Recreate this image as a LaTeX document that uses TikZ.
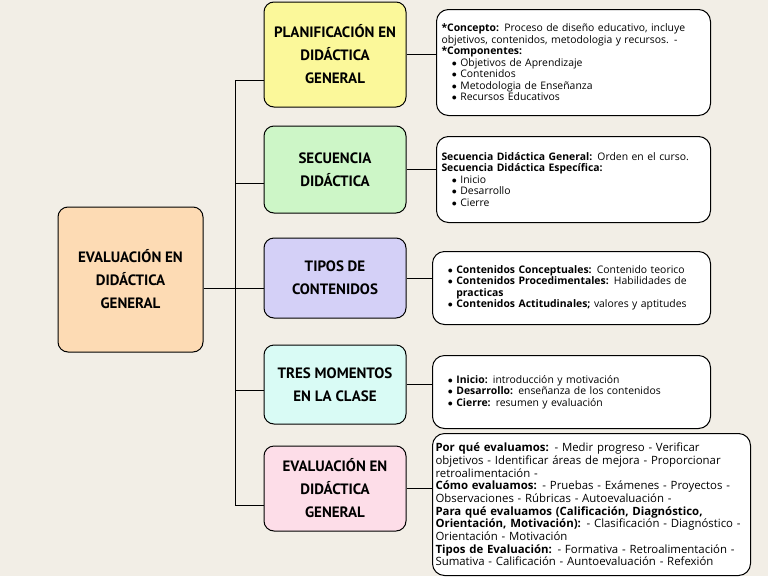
\documentclass[tikz,border=0pt]{standalone}
\usepackage{fontspec}
\setmainfont{Open Sans}
\newfontfamily\titlefont{PT Sans}
\begin{document}
\begin{tikzpicture}[x=1pt,y=-1pt,
 topic/.style={draw,line width=1pt,rounded corners=10pt,align=center,font=\titlefont\bfseries\fontsize{15}{23}\selectfont,inner sep=2pt},
 detail/.style={draw,line width=1pt,rounded corners=12pt,align=left,font=\fontsize{10.4}{11.5}\selectfont,anchor=north west,inner sep=6pt},
 conn/.style={line width=1pt}]
\fill[fill={rgb,255:red,242;green,238;blue,230}] (0,0) rectangle (768,576);
\useasboundingbox (0,0) rectangle (768,576);
\definecolor{c0}{RGB}{253,219,180}\definecolor{c1}{RGB}{251,248,154}\definecolor{c2}{RGB}{205,246,199}
\definecolor{c3}{RGB}{212,208,247}\definecolor{c4}{RGB}{217,251,245}\definecolor{c5}{RGB}{253,221,232}
\node[topic,fill=c0,minimum width=145,minimum height=145] (m) at (130.5,279.5) {EVALUACIÓN EN\\DIDÁCTICA\\GENERAL};
\node[topic,fill=c1,minimum width=142,minimum height=105] (t1) at (335,54.5) {PLANIFICACIÓN EN\\DIDÁCTICA\\GENERAL};
\node[topic,fill=c2,minimum width=142,minimum height=87] (t2) at (335,169.5) {SECUENCIA\\DIDÁCTICA};
\node[topic,fill=c3,minimum width=142,minimum height=80] (t3) at (335,278) {TIPOS DE\\CONTENIDOS};
\node[topic,fill=c4,minimum width=142,minimum height=79] (t4) at (335,384.5) {TRES MOMENTOS\\EN LA CLASE};
\node[topic,fill=c5,minimum width=142,minimum height=85] (t5) at (335,488.5) {EVALUACIÓN EN\\DIDÁCTICA\\GENERAL};
\coordinate (j) at (235,288);
\draw[conn] (m.east|-j) -- (j);
\draw[conn] (235,80) -- (235,505);
\foreach \i/\y in {1/80,2/183,3/288,4/390,5/505}{\draw[conn] (235,\y) -- (t\i.west|-0,\y);}
\node[detail,fill=white,minimum width=274,minimum height=106,text width=264,inner sep=5pt] (d1) at (436,9) {\textbf{*Concepto:} Proceso de diseño educativo, incluye\\ objetivos, contenidos, metodologia y recursos. -\\
\textbf{*Componentes:}\\
\quad$\bullet$\ Objetivos de Aprendizaje\\\quad$\bullet$\ Contenidos\\\quad$\bullet$\ Metodologia de Enseñanza\\\quad$\bullet$\ Recursos Educativos};
\node[detail,fill=white,minimum width=274,minimum height=86,text width=264,inner sep=5pt] (d2) at (436,136) {\textbf{Secuencia Didáctica General:} Orden en el curso.\\
\textbf{Secuencia Didáctica Específica:}\\\quad$\bullet$\ Inicio\\\quad$\bullet$\ Desarrollo\\\quad$\bullet$\ Cierre};
\node[detail,fill=white,minimum width=278,minimum height=73,text width=268,inner sep=5pt] (d3) at (432,251) {\quad$\bullet$\ \textbf{Contenidos Conceptuales:} Contenido teorico\\
\quad$\bullet$\ \textbf{Contenidos Procedimentales:} Habilidades de\\\quad\phantom{$\bullet$\ }\textbf{practicas}\\
\quad$\bullet$\ \textbf{Contenidos Actitudinales;} valores y aptitudes};
\node[detail,fill=white,minimum width=278,minimum height=73,text width=268,inner sep=5pt] (d4) at (432,355) {\quad$\bullet$\ \textbf{Inicio:} introducción y motivación\\
\quad$\bullet$\ \textbf{Desarrollo:} enseñanza de los contenidos\\\quad$\bullet$\ \textbf{Cierre:} resumen y evaluación};
\node[detail,fill=white,minimum width=318,minimum height=142,text width=312,font=\fontsize{11.4}{12.7}\selectfont,inner sep=3pt] (d5) at (432,433) {\textbf{Por qué evaluamos:} - Medir progreso - Verificar\\ objetivos - Identificar áreas de mejora - Proporcionar\\ retroalimentación -\\
\textbf{Cómo evaluamos:} - Pruebas - Exámenes - Proyectos -\\ Observaciones - Rúbricas - Autoevaluación -\\
\textbf{Para qué evaluamos (Calificación, Diagnóstico,}\\ \textbf{Orientación, Motivación):} - Clasificación - Diagnóstico -\\ Orientación - Motivación\\
\textbf{Tipos de Evaluación:} - Formativa - Retroalimentación -\\ Sumativa - Calificación - Auntoevaluación - Refexión};
\foreach \i in {1,...,5}{\draw[conn] (t\i.east) -- (d\i.west|-t\i.east);}
\end{tikzpicture}
\end{document}
